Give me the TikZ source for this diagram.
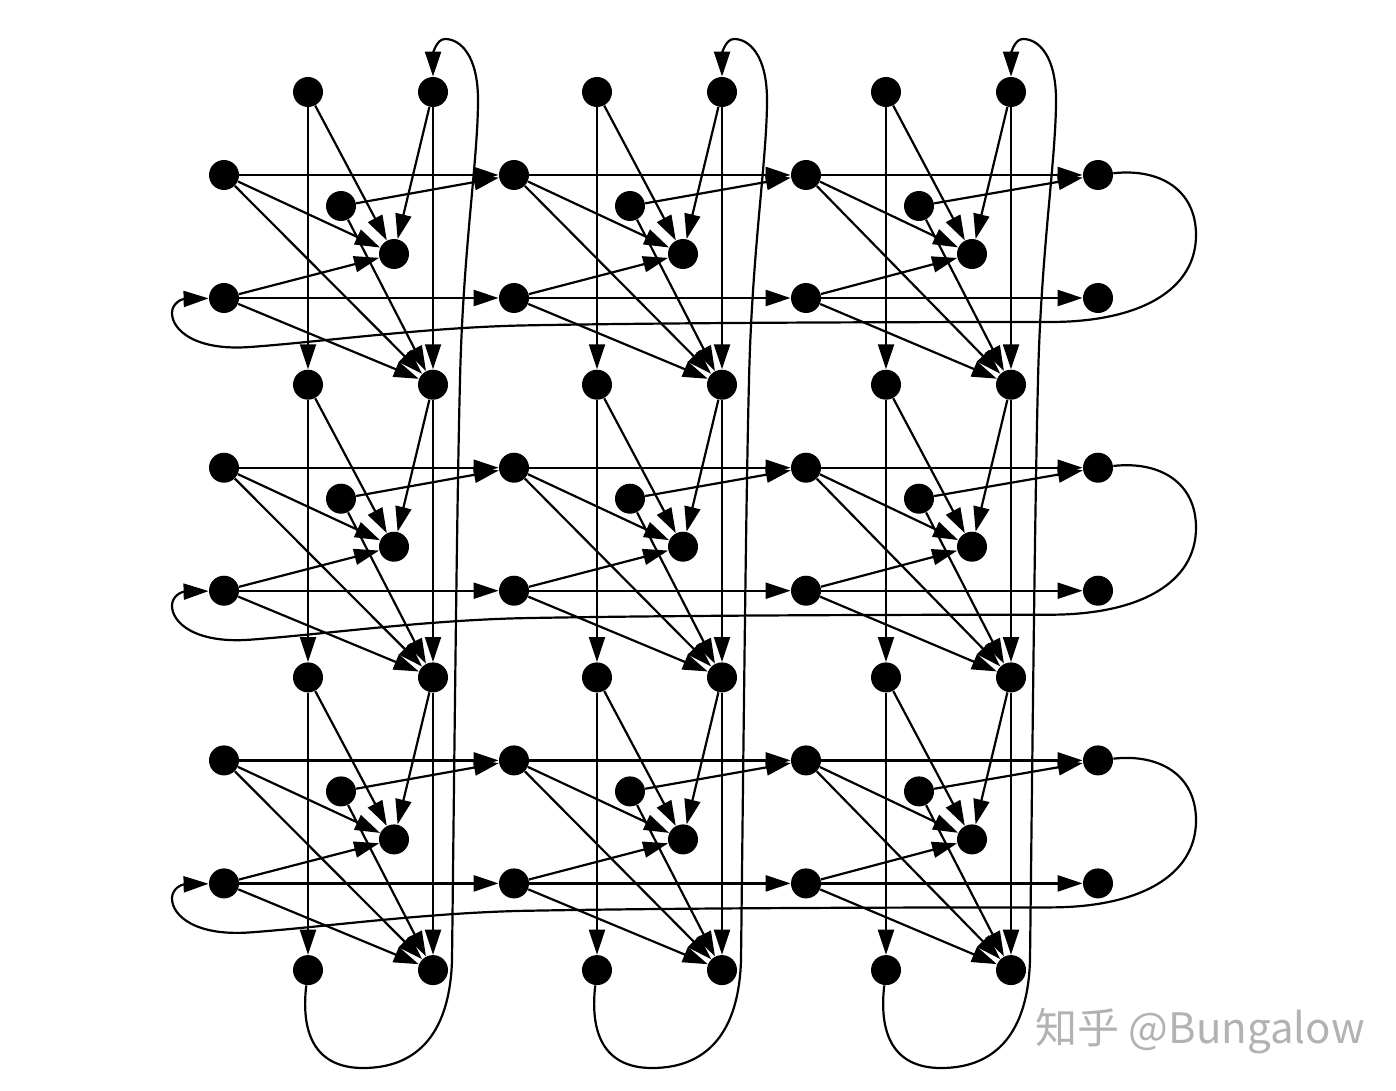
\documentclass[tikz,border=0pt]{standalone}
\usepackage{fontspec}
\newfontfamily\cjk{Noto Sans CJK SC}
\usetikzlibrary{arrows.meta}
\begin{document}
\begin{tikzpicture}[x=0.5pt,y=-0.5pt,
  dot/.style={circle,fill=black,draw=none,minimum size=15pt,inner sep=0pt},
  edge/.style={line width=1.1pt,-{Triangle[length=12.5pt,width=8pt]}}]
\useasboundingbox (0,0) rectangle (1396,1091);
% nodes
\foreach \r in {0,...,3}{
  \foreach \c in {0,1,2}{
    \node[dot] (A-\r-\c) at ({308+289*\c},{92+292.7*\r}) {};
    \node[dot] (B-\r-\c) at ({433+289*\c},{92+292.7*\r}) {};
  }
}
\foreach \r in {0,1,2}{
  \foreach \c/\x in {0/224,1/514,2/806,3/1098}{
    \node[dot] (L-\r-\c) at (\x,{175+292.7*\r}) {};
    \node[dot] (K-\r-\c) at (\x,{298+292.7*\r}) {};
  }
  \foreach \c in {0,1,2}{
    \node[dot] (M-\r-\c) at ({341+289*\c},{206+292.7*\r}) {};
    \node[dot] (C-\r-\c) at ({394+289*\c},{254+292.7*\r}) {};
  }
}
% edges inside each cell
\foreach \r in {0,1,2}{
  \foreach \c in {0,1,2}{
    \pgfmathtruncatemacro\rn{\r+1}
    \pgfmathtruncatemacro\cn{\c+1}
    \draw[edge] (A-\r-\c) -- (A-\rn-\c);
    \draw[edge] (A-\r-\c) -- (C-\r-\c);
    \draw[edge] (B-\r-\c) -- (C-\r-\c);
    \draw[edge] (B-\r-\c) -- (B-\rn-\c);
    \draw[edge] (L-\r-\c) -- (L-\r-\cn);
    \draw[edge] (L-\r-\c) -- (C-\r-\c);
    \draw[edge] (L-\r-\c) -- (B-\rn-\c);
    \draw[edge] (M-\r-\c) -- (L-\r-\cn);
    \draw[edge] (M-\r-\c) -- (B-\rn-\c);
    \draw[edge] (K-\r-\c) -- (C-\r-\c);
    \draw[edge] (K-\r-\c) -- (K-\r-\cn);
    \draw[edge] (K-\r-\c) -- (B-\rn-\c);
  }
}
% vertical wrap-around edges
\foreach \c in {0,1,2}{
  \pgfmathsetmacro\dx{289*\c}
  \draw[edge] (A-3-\c) .. controls ({300+\dx},1040) and ({320+\dx},1068) .. ({363+\dx},1068)
    .. controls ({420+\dx},1068) and ({450+\dx},1030) .. ({452+\dx},960)
    .. controls ({455+\dx},700) and ({457+\dx},500) .. ({460+\dx},380)
    .. controls ({463+\dx},250) and ({478+\dx},160) .. ({478+\dx},100)
    .. controls ({478+\dx},55) and ({460+\dx},39) .. ({445+\dx},39)
    .. controls ({436+\dx},39) and ({433+\dx},55) .. (B-0-\c);
}
% horizontal wrap-around edges
\foreach \r in {0,1,2}{
  \pgfmathsetmacro\dy{292.7*\r}
  \draw[edge] (L-\r-3) .. controls (1160,{168+\dy}) and (1196,{190+\dy}) .. (1196,{235+\dy})
    .. controls (1196,{290+\dy}) and (1140,{322+\dy}) .. (1050,{322+\dy})
    .. controls (850,{322+\dy}) and (650,{323+\dy}) .. (520,{325.5+\dy})
    .. controls (420,{328+\dy}) and (320,{342+\dy}) .. (250,{347+\dy})
    .. controls (195,{351+\dy}) and (172,{330+\dy}) .. (172,{313+\dy})
    .. controls (172,{303+\dy}) and (182,{299+\dy}) .. (K-\r-0);
}
% watermark
\node[anchor=base west, inner sep=0pt, text=black!30] (wm) at (1035,1043)
  {\cjk\fontsize{21pt}{25pt}\selectfont 知乎 @Bungalow};
\end{tikzpicture}
\end{document}
